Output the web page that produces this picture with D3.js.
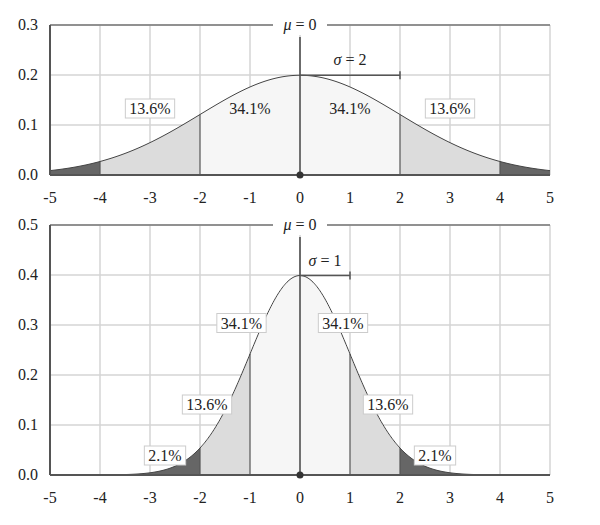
<!DOCTYPE html>
<html><head><meta charset="utf-8">
<script src="https://cdn.jsdelivr.net/npm/d3@7"></script>
<style>body{margin:0;background:#fff}svg{font-family:"Liberation Serif","DejaVu Serif",serif}</style>
</head><body><svg id="c" width="600" height="525"></svg>
<script>
const xTicks = [-5,-4,-3,-2,-1,0,1,2,3,4,5];
const panels = [
  {sigma:2, yMax:0.3, yTicks:[0,0.1,0.2,0.3], top:25, bottom:175,
   labels:[{x:-3,y:0.132,t:"13.6%",box:true},{x:-1,y:0.132,t:"34.1%",box:false},{x:1,y:0.132,t:"34.1%",box:false},{x:3,y:0.132,t:"13.6%",box:true}]},
  {sigma:1, yMax:0.5, yTicks:[0,0.1,0.2,0.3,0.4,0.5], top:225, bottom:475,
   labels:[{x:-1.17,y:0.303,t:"34.1%",box:true},{x:0.86,y:0.303,t:"34.1%",box:true},{x:-1.86,y:0.14,t:"13.6%",box:true},{x:1.76,y:0.14,t:"13.6%",box:true},{x:-2.7,y:0.038,t:"2.1%",box:true},{x:2.7,y:0.038,t:"2.1%",box:true}]}
];
const svg = d3.select("#c");
const x = d3.scaleLinear().domain([-5,5]).range([50,550]);
const pdf = (v,s)=>Math.exp(-v*v/(2*s*s))/(s*Math.sqrt(2*Math.PI));
panels.forEach(p=>{
  const y = d3.scaleLinear().domain([0,p.yMax]).range([p.bottom,p.top]);
  const g = svg.append("g");
  xTicks.forEach(t=>g.append("line").attr("x1",x(t)).attr("x2",x(t)).attr("y1",y(0)).attr("y2",y(p.yMax)).attr("stroke","#d4d4d4").attr("stroke-width",1.5));
  p.yTicks.forEach(t=>g.append("line").attr("x1",x(-5)).attr("x2",x(5)).attr("y1",y(t)).attr("y2",y(t)).attr("stroke","#d4d4d4").attr("stroke-width",1.5));
  g.append("line").attr("x1",x(-5)).attr("x2",x(5)).attr("y1",y(p.yMax)).attr("y2",y(p.yMax)).attr("stroke","#777").attr("stroke-width",1.5);
  const s=p.sigma;
  const regions=[[-5,-2*s,"#666"],[-2*s,-s,"#dcdcdc"],[-s,s,"#f6f6f6"],[s,2*s,"#dcdcdc"],[2*s,5,"#666"]];
  const area=d3.area().x(d=>x(d)).y0(y(0)).y1(d=>y(pdf(d,s)));
  regions.forEach(([a,b,c])=>{
    if(b<=a)return;
    g.append("path").datum(d3.range(a,b,0.02).concat([b])).attr("d",area).attr("fill",c);
  });
  [-2*s,-s,s,2*s].filter(v=>v>-5&&v<5).forEach(v=>g.append("line").attr("x1",x(v)).attr("x2",x(v)).attr("y1",y(0)).attr("y2",y(pdf(v,s))).attr("stroke","#555").attr("stroke-width",1.2));
  g.append("path").datum(d3.range(-5,5.001,0.02)).attr("d",d3.line().x(d=>x(d)).y(d=>y(pdf(d,s)))).attr("fill","none").attr("stroke","#444").attr("stroke-width",1);
  g.append("line").attr("x1",x(-5)).attr("x2",x(5)).attr("y1",y(0)).attr("y2",y(0)).attr("stroke","#555").attr("stroke-width",2);
  g.append("line").attr("x1",x(-5)).attr("x2",x(-5)).attr("y1",y(0)).attr("y2",y(p.yMax)).attr("stroke","#555").attr("stroke-width",2);
  xTicks.forEach(t=>g.append("text").attr("x",x(t)).attr("y",y(0)+28).attr("text-anchor","middle").attr("font-size",16).attr("fill","#222").text(t));
  p.yTicks.forEach(t=>g.append("text").attr("x",x(-5)-12).attr("y",y(t)+5).attr("text-anchor","end").attr("font-size",16).attr("fill","#222").text(t.toFixed(1)));
  g.append("rect").attr("x",x(0)-27).attr("y",y(p.yMax)-10).attr("width",54).attr("height",20).attr("fill","#fff");
  g.append("text").attr("x",x(0)).attr("y",y(p.yMax)+5).attr("text-anchor","middle").attr("font-size",16).attr("fill","#222").html('<tspan font-style="italic">μ</tspan> = 0');
  g.append("line").attr("x1",x(0)).attr("x2",x(0)).attr("y1",y(p.yMax)+12).attr("y2",y(0)).attr("stroke","#444").attr("stroke-width",1.5);
  g.append("circle").attr("cx",x(0)).attr("cy",y(0)).attr("r",3.5).attr("fill","#333");
  const py=y(pdf(0,s));
  g.append("line").attr("x1",x(0)).attr("x2",x(s)).attr("y1",py).attr("y2",py).attr("stroke","#555").attr("stroke-width",1.5);
  g.append("line").attr("x1",x(s)).attr("x2",x(s)).attr("y1",py-4).attr("y2",py+4).attr("stroke","#555").attr("stroke-width",1.5);
  g.append("text").attr("x",x(s/2)).attr("y",py-10).attr("text-anchor","middle").attr("font-size",16).attr("fill","#222").html('<tspan font-style="italic">σ</tspan> = '+s);
  p.labels.forEach(l=>{
    const t=g.append("text").attr("x",x(l.x)).attr("y",y(l.y)+5).attr("text-anchor","middle").attr("font-size",16).attr("fill","#222").text(l.t);
    if(l.box){const bb=t.node().getBBox();g.insert("rect","text:last-of-type").attr("x",bb.x-4).attr("y",bb.y-1).attr("width",bb.width+8).attr("height",bb.height+2).attr("fill","#fff").attr("stroke","#ccc");t.raise();}
  });
});
</script></body></html>
